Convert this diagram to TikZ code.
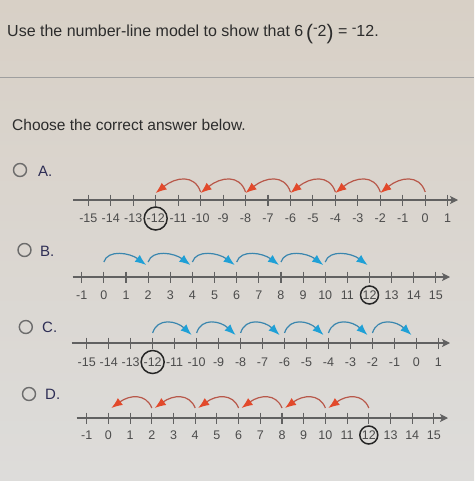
\documentclass[tikz,border=0pt]{standalone}
\usepackage{fontspec}
\setmainfont{Liberation Sans}
\usetikzlibrary{arrows.meta}

\definecolor{bgtop}{HTML}{D8D0C6}
\definecolor{bgbot}{HTML}{DDDCDA}
\definecolor{ink}{HTML}{2C2C2C}
\definecolor{optink}{HTML}{2E2E55}
\definecolor{hopred}{HTML}{B8584A}
\definecolor{tipred}{HTML}{E2492B}
\definecolor{hopblue}{HTML}{3A86AE}
\definecolor{tipblue}{HTML}{1FA0D6}

\newcommand\highminus{\raisebox{4.5pt}{\fontsize{14}{14}\selectfont -}}

\tikzset{
  numline/.style={-{Stealth[length=8pt,width=8pt,inset=2pt]}, line width=1.2pt, draw=ink!75},
  tickmark/.style={line width=1.1pt, draw=ink!75},
  ticklabel/.style={font=\fontsize{12.5}{12.5}\selectfont, text=ink!85, inner sep=0pt},
  redhop/.style={draw=hopred, line width=1.2pt, -{Latex[length=11pt,width=8.5pt,color=tipred]}},
  bluehop/.style={draw=hopblue, line width=1.2pt, -{Latex[length=11pt,width=8.5pt,color=tipblue]}},
  radio/.style={circle, draw=gray!85!black, line width=1.4pt, minimum size=13pt, inner sep=0pt},
  optlabel/.style={font=\fontsize{15}{15}\selectfont, text=optink, anchor=base west, inner sep=0pt},
  answer/.style={circle, draw=black!85, line width=1.5pt, inner sep=0pt}
}

\begin{document}
\begin{tikzpicture}[x=1pt, y=-1pt]
    \useasboundingbox (0,0) rectangle (474,481);

    % background
    \shade[top color=bgtop, bottom color=bgbot] (0,0) rectangle (474,481);

    % question
    \node[anchor=base west, inner sep=0pt, text=ink, font=\fontsize{16}{16}\selectfont] (question) at (7,37)
        {Use the number-line model to show that 6\,\raisebox{-2.5pt}{\fontsize{21}{21}\selectfont(}\highminus2\raisebox{-2.5pt}{\fontsize{21}{21}\selectfont)} = \highminus12.};
    \draw[gray!75, line width=0.8pt] (0,77.5) -- (474,77.5);

    \node[anchor=base west, inner sep=0pt, text=ink, font=\fontsize{15.5}{15.5}\selectfont] (choose) at (12,131)
        {Choose the correct answer below.};

    % option A
    \node[radio] (radA) at (20,170) {};
    \node[optlabel] (labA) at (38,176) {A.};
    \coordinate (aS) at (73,200);
    \coordinate (aE) at (458,200);
    \draw[numline] (aS) -- (aE);
    \foreach \i [evaluate=\i as \v using int(\i-15)] in {0,...,16} {
        \coordinate (a\i) at (88.3+22.46*\i,200);
        \draw[tickmark] ([yshift=5.5pt]a\i) -- ([yshift=-5.5pt]a\i);
        \node[ticklabel] (la\i) at ([yshift=-18.5pt]a\i) {\v};
    }
    \foreach \s/\e in {15/13,13/11,11/9,9/7,7/5,5/3}
        \draw[redhop] ([yshift=8pt]a\s) .. controls +(-6,-18) and +(20,-16) .. ([yshift=7pt]a\e);
    \node[answer, minimum size=23pt] (ansA) at (la3) {};

    % option B
    \node[radio] (radB) at (24.5,250) {};
    \node[optlabel] (labB) at (40,256) {B.};
    \coordinate (bS) at (72.7,277);
    \coordinate (bE) at (450,277);
    \draw[numline] (bS) -- (bE);
    \foreach \i [evaluate=\i as \v using int(\i-1)] in {0,...,16} {
        \coordinate (b\i) at (81.7+22.14*\i,277);
        \draw[tickmark] ([yshift=5.5pt]b\i) -- ([yshift=-5.5pt]b\i);
        \node[ticklabel] (lb\i) at ([yshift=-18pt]b\i) {\v};
    }
    \foreach \s/\e in {1/3,3/5,5/7,7/9,9/11,11/13}
        \draw[bluehop] ([yshift=15pt]b\s) .. controls +(4,-13) and +(-16,-12) .. ([xshift=-2pt,yshift=12pt]b\e);
    \node[answer, minimum size=18pt] (ansB) at (lb13) {};

    % option C
    \node[radio] (radC) at (25.8,327) {};
    \node[optlabel] (labC) at (42,332.5) {C.};
    \coordinate (cS) at (71.7,343);
    \coordinate (cE) at (450,343);
    \draw[numline] (cS) -- (cE);
    \foreach \i [evaluate=\i as \v using int(\i-15)] in {0,...,16} {
        \coordinate (c\i) at (86.7+21.98*\i,343);
        \draw[tickmark] ([yshift=5.5pt]c\i) -- ([yshift=-5.5pt]c\i);
        \node[ticklabel] (lc\i) at ([yshift=-19pt]c\i) {\v};
    }
    \foreach \s/\e in {3/5,5/7,7/9,9/11,11/13,13/15}
        \draw[bluehop] ([yshift=10pt]c\s) .. controls +(5,-16) and +(-15,-14) .. ([xshift=-5pt,yshift=8pt]c\e);
    \node[answer, minimum size=23pt] (ansC) at (lc3) {};

    % option D
    \node[radio] (radD) at (29,394) {};
    \node[optlabel] (labD) at (45,399.5) {D.};
    \coordinate (dS) at (76.7,418);
    \coordinate (dE) at (448,418);
    \draw[numline] (dS) -- (dE);
    \foreach \i [evaluate=\i as \v using int(\i-1)] in {0,...,16} {
        \coordinate (d\i) at (86.7+21.7*\i,418);
        \draw[tickmark] ([yshift=5.5pt]d\i) -- ([yshift=-5.5pt]d\i);
        \node[ticklabel] (ld\i) at ([yshift=-17pt]d\i) {\v};
    }
    \foreach \s/\e in {13/11,11/9,9/7,7/5,5/3,3/1}
        \draw[redhop] ([yshift=10pt]d\s) .. controls +(-6,-15) and +(18,-13) .. ([xshift=3pt,yshift=10pt]d\e);
    \node[answer, minimum size=18pt] (ansD) at (ld13) {};
\end{tikzpicture}
\end{document}
